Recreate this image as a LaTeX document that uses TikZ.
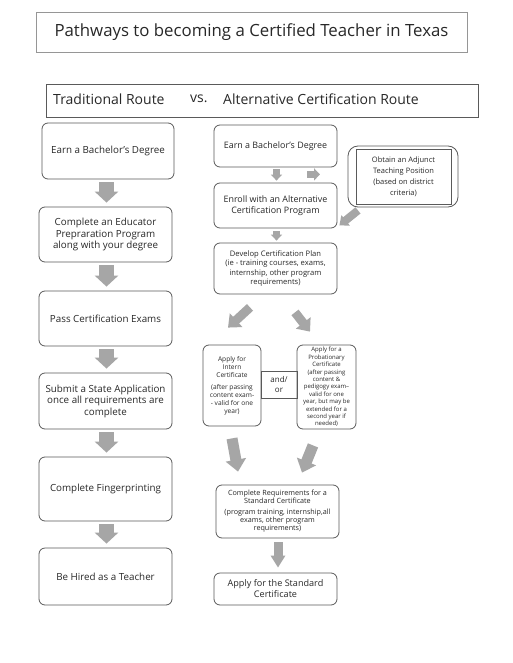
\documentclass[tikz,border=0pt]{standalone}
\usepackage{fontspec}
\setmainfont{Open Sans}
\usetikzlibrary{arrows.meta,calc}
\definecolor{boxc}{RGB}{90,90,90}
\definecolor{txtc}{RGB}{40,40,40}
\definecolor{arrc}{RGB}{166,166,166}
\definecolor{ttlc}{RGB}{150,150,150}
\tikzset{
  box/.style={draw=boxc, line width=0.8pt, rounded corners=6pt, align=center, inner sep=0pt, text=txtc},
  fs/.style n args={2}{font=\fontsize{#1}{#2}\selectfont},
  barrow/.style n args={3}{draw=arrc, line width=#1pt, -{Triangle[length=#3pt,width=#2pt]}},
}
\begin{document}
\begin{tikzpicture}[x=1pt,y=-1pt]
\useasboundingbox[fill=white] (0,0) rectangle (512,663);
% headers
\node[draw=ttlc, line width=0.8pt, minimum width=431pt, minimum height=40pt, inner sep=0pt, fs={16.8}{20}, text=txtc] (title) at (251.5,32) {Pathways to becoming a Certified Teacher in Texas};
\node[draw=boxc, line width=0.8pt, minimum width=432pt, minimum height=33pt, inner sep=0pt] (hdr) at (262,100.5) {};
\node[anchor=west, inner sep=0pt, fs={14}{16}, text=txtc] (trad) at (53,99) {Traditional Route};
\node[anchor=west, inner sep=0pt, fs={14}{16}, text=txtc] (vs) at (190,99) {vs.};
\node[anchor=west, inner sep=0pt, fs={14}{16}, text=txtc] (alt) at (223,99) {Alternative Certification Route};
% left column
\node[box, fs={9.8}{11.5}, minimum width=132pt, minimum height=56pt] (b1) at (108,151) {Earn a Bachelor's Degree};
\node[box, fs={9.8}{11.5}, minimum width=133pt, minimum height=55pt] (b2) at (105.5,234.5) {Complete an Educator\\Prepraration Program\\along with your degree};
\node[box, fs={9.8}{11.5}, minimum width=133pt, minimum height=55pt] (b3) at (105.5,318.5) {Pass Certification Exams};
\node[box, fs={9.8}{11.5}, minimum width=133pt, minimum height=56pt] (b4) at (105.5,401) {Submit a State Application\\once all requirements are\\complete};
\node[box, fs={9.8}{11.5}, minimum width=133pt, minimum height=64pt] (b5) at (105.5,489) {Complete Fingerprinting};
\node[box, fs={9.8}{11.5}, minimum width=133pt, minimum height=57pt] (b6) at (105.5,576.5) {Be Hired as a Teacher};
\foreach \a/\b in {b1/b2,b2/b3,b3/b4,b4/b5,b5/b6}
  \draw[barrow={15}{23}{11}, shorten <=3pt, shorten >=4pt] ([xshift=1pt]\b.north |- \a.south) -- ([xshift=1pt]\b.north);
% right column
\node[box, fs={8.9}{10.5}, minimum width=123pt, minimum height=42pt] (r1) at (275.5,146) {Earn a Bachelor's Degree};
\node[box, fs={8.9}{11}, minimum width=123pt, minimum height=45pt] (r2) at (275.5,205.5) {Enroll with an Alternative\\Certification Program};
\node[draw=boxc, line width=0.8pt, rounded corners=10pt, minimum width=110pt, minimum height=61pt, inner sep=0pt] (adjo) at (403,176.5) {};
\node[draw=boxc, line width=0.8pt, minimum width=95pt, minimum height=55pt, inner sep=0pt, align=center, text=txtc, fs={7.5}{11}] (adj) at (403.5,176.5) {Obtain an Adjunct\\Teaching Position\\(based on district\\criteria)};
\node[box, fs={7.6}{9.5}, minimum width=123pt, minimum height=51pt] (r3) at (275.5,268.5) {Develop Certification Plan\\(ie - training courses, exams,\\internship, other program\\requirements)};
\node[box, fs={6.6}{8}, minimum width=58pt, minimum height=81pt] (intern) at (232,385.5) {Apply for\\Intern\\Certificate\\[4pt](after passing\\content exam-\\- valid for one\\year)};
\node[box, fs={6}{7.4}, minimum width=59pt, minimum height=84pt] (prob) at (326.5,387) {Apply for a\\Probationary\\Certificate\\(after passing\\content \&\\pedigogy exam--\\valid for one\\year, but may be\\extended for a\\second year if\\needed)};
\node[draw=boxc, line width=0.8pt, minimum width=36pt, minimum height=27pt, inner sep=0pt, align=center, text=txtc, fs={8}{10}] (andor) at (279,384.5) {and/\\or};
\node[box, fs={7.2}{8}, minimum width=123pt, minimum height=53pt] (r4) at (277.5,511.5) {Complete Requirements for a\\Standard Certificate\\[3pt](program training, internship,all\\exams, other program\\requirements)};
\node[box, fs={9.1}{11}, minimum width=123pt, minimum height=32pt] (r5) at (275.5,589) {Apply for the Standard\\Certificate};
% right arrows
\draw[barrow={7}{11}{6}] ([shift={(1,2)}]r1.south) -- ([shift={(1,-2)}]r2.north);
\draw[barrow={7}{12}{6}] ([shift={(31.5,7)}]r1.south) -- ([shift={(44.5,7)}]r1.south);
\draw[barrow={8}{13}{8}] ([shift={(-45,3)}]adjo.south) -- ([shift={(2,-3)}]r2.south east);
\draw[barrow={7}{11}{6}] ([shift={(1,3)}]r2.south) -- ([shift={(1,-2)}]r3.north);
\draw[barrow={9}{18}{11}] ([shift={(-25.5,13)}]r3.south) -- ([shift={(-4,-17)}]intern.north);
\draw[barrow={9}{18}{11}] ([shift={(19.5,18)}]r3.south) -- ([shift={(-16.5,-13)}]prob.north);
\draw[barrow={11}{20}{12}] ([shift={(0,12)}]intern.south) -- ([shift={(-39.5,-13)}]r4.north);
\draw[barrow={11}{20}{12}] ([shift={(-13.5,16)}]prob.south) -- ([shift={(24.5,-12)}]r4.north);
\draw[barrow={9}{14}{12}] ([shift={(0.5,4)}]r4.south) -- ([shift={(2.5,-5)}]r5.north);
\end{tikzpicture}
\end{document}
